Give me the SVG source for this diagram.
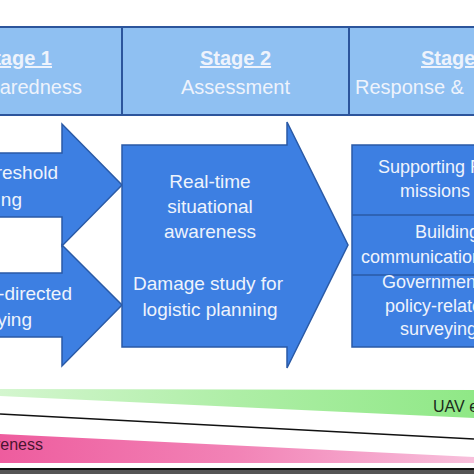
<svg xmlns="http://www.w3.org/2000/svg" width="474" height="474" viewBox="0 0 474 474">
  <defs>
    <linearGradient id="gGreen" x1="0" y1="0" x2="1" y2="0">
      <stop offset="0" stop-color="#d4f6cf"/>
      <stop offset="0.5" stop-color="#aeeea6"/>
      <stop offset="1" stop-color="#8fe886"/>
    </linearGradient>
    <linearGradient id="gPink" x1="0" y1="0" x2="1" y2="0">
      <stop offset="0" stop-color="#ee5c9e"/>
      <stop offset="0.5" stop-color="#f283b6"/>
      <stop offset="1" stop-color="#f8c0dc"/>
    </linearGradient>
  </defs>
  <style>
    .hdr { fill: #8fc0f2; stroke: #2c559c; stroke-width: 2; }
    .blk { fill: #3d7fe2; stroke: #2a5aa6; stroke-width: 1.5; }
    .t { font-family: "Liberation Sans", Arial, sans-serif; fill: #eef3fc; }
    .hs { font-size: 20px; font-weight: bold; text-decoration: underline; }
    .hn { font-size: 20px; }
    .bt { font-size: 19px; }
    .rt { font-size: 18px; }
    .dark { font-family: "Liberation Sans", Arial, sans-serif; font-size: 16px; }
  </style>
  <rect x="0" y="0" width="474" height="474" fill="#ffffff"/>

  <g id="header">
    <rect class="hdr" x="-5" y="27" width="127" height="88"/>
    <rect class="hdr" x="122" y="27" width="227" height="88"/>
    <rect class="hdr" x="349" y="27" width="140" height="88"/>
    <text class="t hs" x="52" y="65" text-anchor="end">Stage 1</text>
    <text class="t hn" x="82" y="94" text-anchor="end">Preparedness</text>
    <text class="t hs" x="235.5" y="65" text-anchor="middle">Stage 2</text>
    <text class="t hn" x="235.5" y="94" text-anchor="middle">Assessment</text>
    <text class="t hs" x="421" y="65">Stage 3</text>
    <text class="t hn" x="355" y="94">Response &amp;</text>
  </g>

  <g id="arrow-top">
    <polygon class="blk" points="-5,153 62,153 62,124 122,185 62,246 62,217 -5,217"/>
    <text class="t bt" x="58" y="179" text-anchor="end">Threshold</text>
    <text class="t bt" x="22" y="206" text-anchor="end">ng</text>
  </g>

  <g id="arrow-bottom">
    <polygon class="blk" points="-5,273 62,273 62,245 122,305 62,366 62,337 -5,337"/>
    <text class="t bt" x="72" y="300" text-anchor="end">-directed</text>
    <text class="t bt" x="32" y="326" text-anchor="end">ying</text>
  </g>

  <g id="stage2-arrow">
    <polygon class="blk" points="122,145 287,145 287,122 348,245 287,368 287,347 122,347"/>
    <text class="t bt" x="210" y="188" text-anchor="middle">Real-time</text>
    <text class="t bt" x="210" y="213" text-anchor="middle">situational</text>
    <text class="t bt" x="210" y="238" text-anchor="middle">awareness</text>
    <text class="t bt" x="208" y="290" text-anchor="middle">Damage study for</text>
    <text class="t bt" x="210" y="316" text-anchor="middle">logistic planning</text>
  </g>

  <g id="stage3-box">
    <rect class="blk" x="352" y="145" width="140" height="202"/>
    <line x1="352" y1="215" x2="492" y2="215" stroke="#2a5aa6" stroke-width="1.5"/>
    <line x1="352" y1="275" x2="492" y2="275" stroke="#2a5aa6" stroke-width="1.5"/>
    <text class="t rt" x="378" y="173">Supporting R</text>
    <text class="t rt" x="400" y="197">missions</text>
    <text class="t rt" x="415" y="238">Building</text>
    <text class="t rt" x="361" y="263">communication</text>
    <text class="t rt" x="382" y="288">Government</text>
    <text class="t rt" x="385" y="312">policy-related</text>
    <text class="t rt" x="400" y="335">surveying</text>
  </g>

  <g id="connectors">
    <polygon points="-2,389 476,390 476,418 -2,396" fill="url(#gGreen)"/>
    <line x1="0" y1="414" x2="474" y2="439" stroke="#111111" stroke-width="1.5"/>
    <polygon points="-2,434 476,457 476,463 -2,463" fill="url(#gPink)"/>
  </g>

  <g id="labels">
    <text class="dark" x="433" y="412" fill="#1b2a1b">UAV e</text>
    <text class="dark" x="43" y="450" text-anchor="end" fill="#4a1430">Awareness</text>
  </g>

  <rect x="0" y="468" width="474" height="2" fill="#111111"/>
  <rect x="0" y="470" width="474" height="4" fill="#555555"/>
</svg>
